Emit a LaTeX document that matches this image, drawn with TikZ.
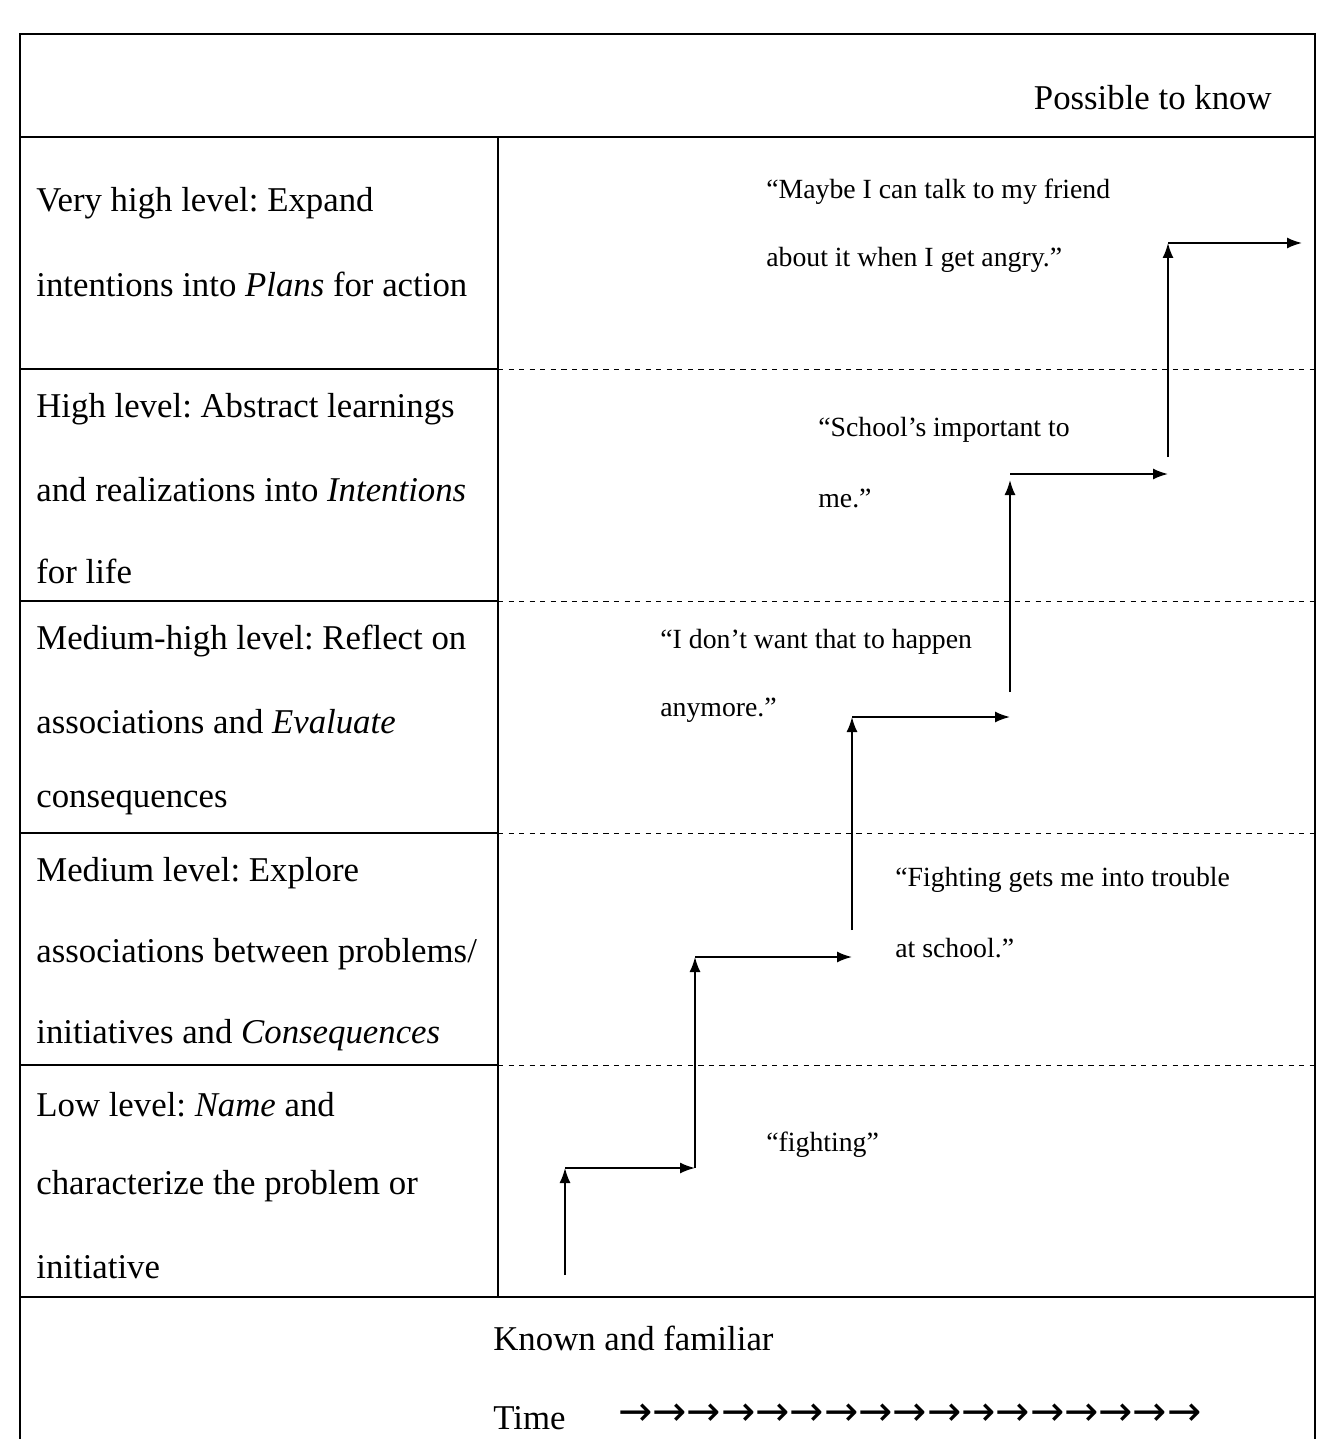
\documentclass[tikz,border=0pt]{standalone}
\usepackage{fontspec}
\setmainfont{Liberation Serif}
\newfontfamily\arrfont{DejaVu Sans}
\usetikzlibrary{arrows.meta}
\frenchspacing
\begin{document}
\begin{tikzpicture}[x=0.02cm,y=-0.02cm,
  big/.style={anchor=west,font=\fontsize{19.8}{46}\selectfont,inner sep=0pt},
  quote/.style={anchor=west,font=\fontsize{15.8}{39}\selectfont,inner sep=0pt,align=left},
  stair/.style={-{Latex[length=0.3cm,width=0.22cm]},line width=1pt},
  rule/.style={line width=0.8pt}]
\useasboundingbox (0,0) rectangle (1323,1439);
\draw[rule] (20,1439) -- (20,34) -- (1315,34) -- (1315,1439);
\draw[rule] (20,137) -- (1315,137);
\draw[rule] (498,137) -- (498,1297);
\draw[rule] (20,1297) -- (1315,1297);
\foreach \y in {369,601,833,1065}{
  \draw[rule] (20,\y) -- (498,\y);
  \draw[dashed,line width=0.5pt] (498,\y) -- (1315,\y);}
\node[big,anchor=east] (ptk) at (1272,98) {Possible to know};
\node[big] (l1a) at (36,203) {Very high level: Expand};
\node[big] (l1b) at (36,284) {intentions into \textit{Plans} for action};
\node[big] (l2a) at (36,409) {High level: Abstract learnings};
\node[big] (l2b) at (36,490) {and realizations into \textit{Intentions}};
\node[big] (l2c) at (36,571) {for life};
\node[big] (l3a) at (36,641) {Medium-high level: Reflect on};
\node[big] (l3b) at (36,722) {associations and \textit{Evaluate}};
\node[big] (l3c) at (36,803) {consequences};
\node[big] (l4a) at (36,873) {Medium level: Explore};
\node[big] (l4b) at (36,954) {associations between problems/};
\node[big] (l4c) at (36,1035) {initiatives and \textit{Consequences}};
\node[big] (l5a) at (36,1105) {Low level: \textit{Name} and};
\node[big] (l5b) at (36,1186) {characterize the problem or};
\node[big] (l5c) at (36,1267) {initiative};
\node[big] (kf) at (493,1338) {Known and familiar};
\node[big] (tm) at (493,1418) {Time};
\node[anchor=west,inner sep=0pt,font=\arrfont\fontsize{23.3}{23}\selectfont] (arr) at (618,1415) {→→→→→→→→→→→→→→→→→};
\node[quote] (q1a) at (766,192) {“Maybe I can talk to my friend};
\node[quote] (q1b) at (766,260) {about it when I get angry.”};
\node[quote] (q2a) at (818,430) {“School’s important to};
\node[quote] (q2b) at (818,498) {me.”};
\node[quote] (q3a) at (660,642) {“I don’t want that to happen};
\node[quote] (q3b) at (660,710) {anymore.”};
\node[quote] (q4a) at (895,880) {“Fighting gets me into trouble};
\node[quote] (q4b) at (895,948) {at school.”};
\node[quote] (q5) at (766,1145) {“fighting”};
\coordinate (a0) at (565,1275); \coordinate (a1) at (565,1168); \coordinate (a2) at (695,1168);
\coordinate (b0) at (695,1168); \coordinate (b1) at (695,957); \coordinate (b2) at (852,957);
\coordinate (c0) at (852,930); \coordinate (c1) at (852,717); \coordinate (c2) at (1010,717);
\coordinate (d0) at (1010,692); \coordinate (d1) at (1010,480); \coordinate (d2) at (1168,474);
\coordinate (e0) at (1168,457); \coordinate (e1) at (1168,243); \coordinate (e2) at (1302,243);
\draw[stair] (a0) -- (a1); \draw[stair] (a1) -- (a2);
\draw[stair] (b0) -- (b1); \draw[stair] (b1) -- (b2);
\draw[stair] (c0) -- (c1); \draw[stair] (c1) -- (c2);
\draw[stair] (d0) -- (d1); \draw[stair] (1010,474) -- (d2);
\draw[stair] (e0) -- (e1); \draw[stair] (e1) -- (e2);
\end{tikzpicture}
\end{document}
